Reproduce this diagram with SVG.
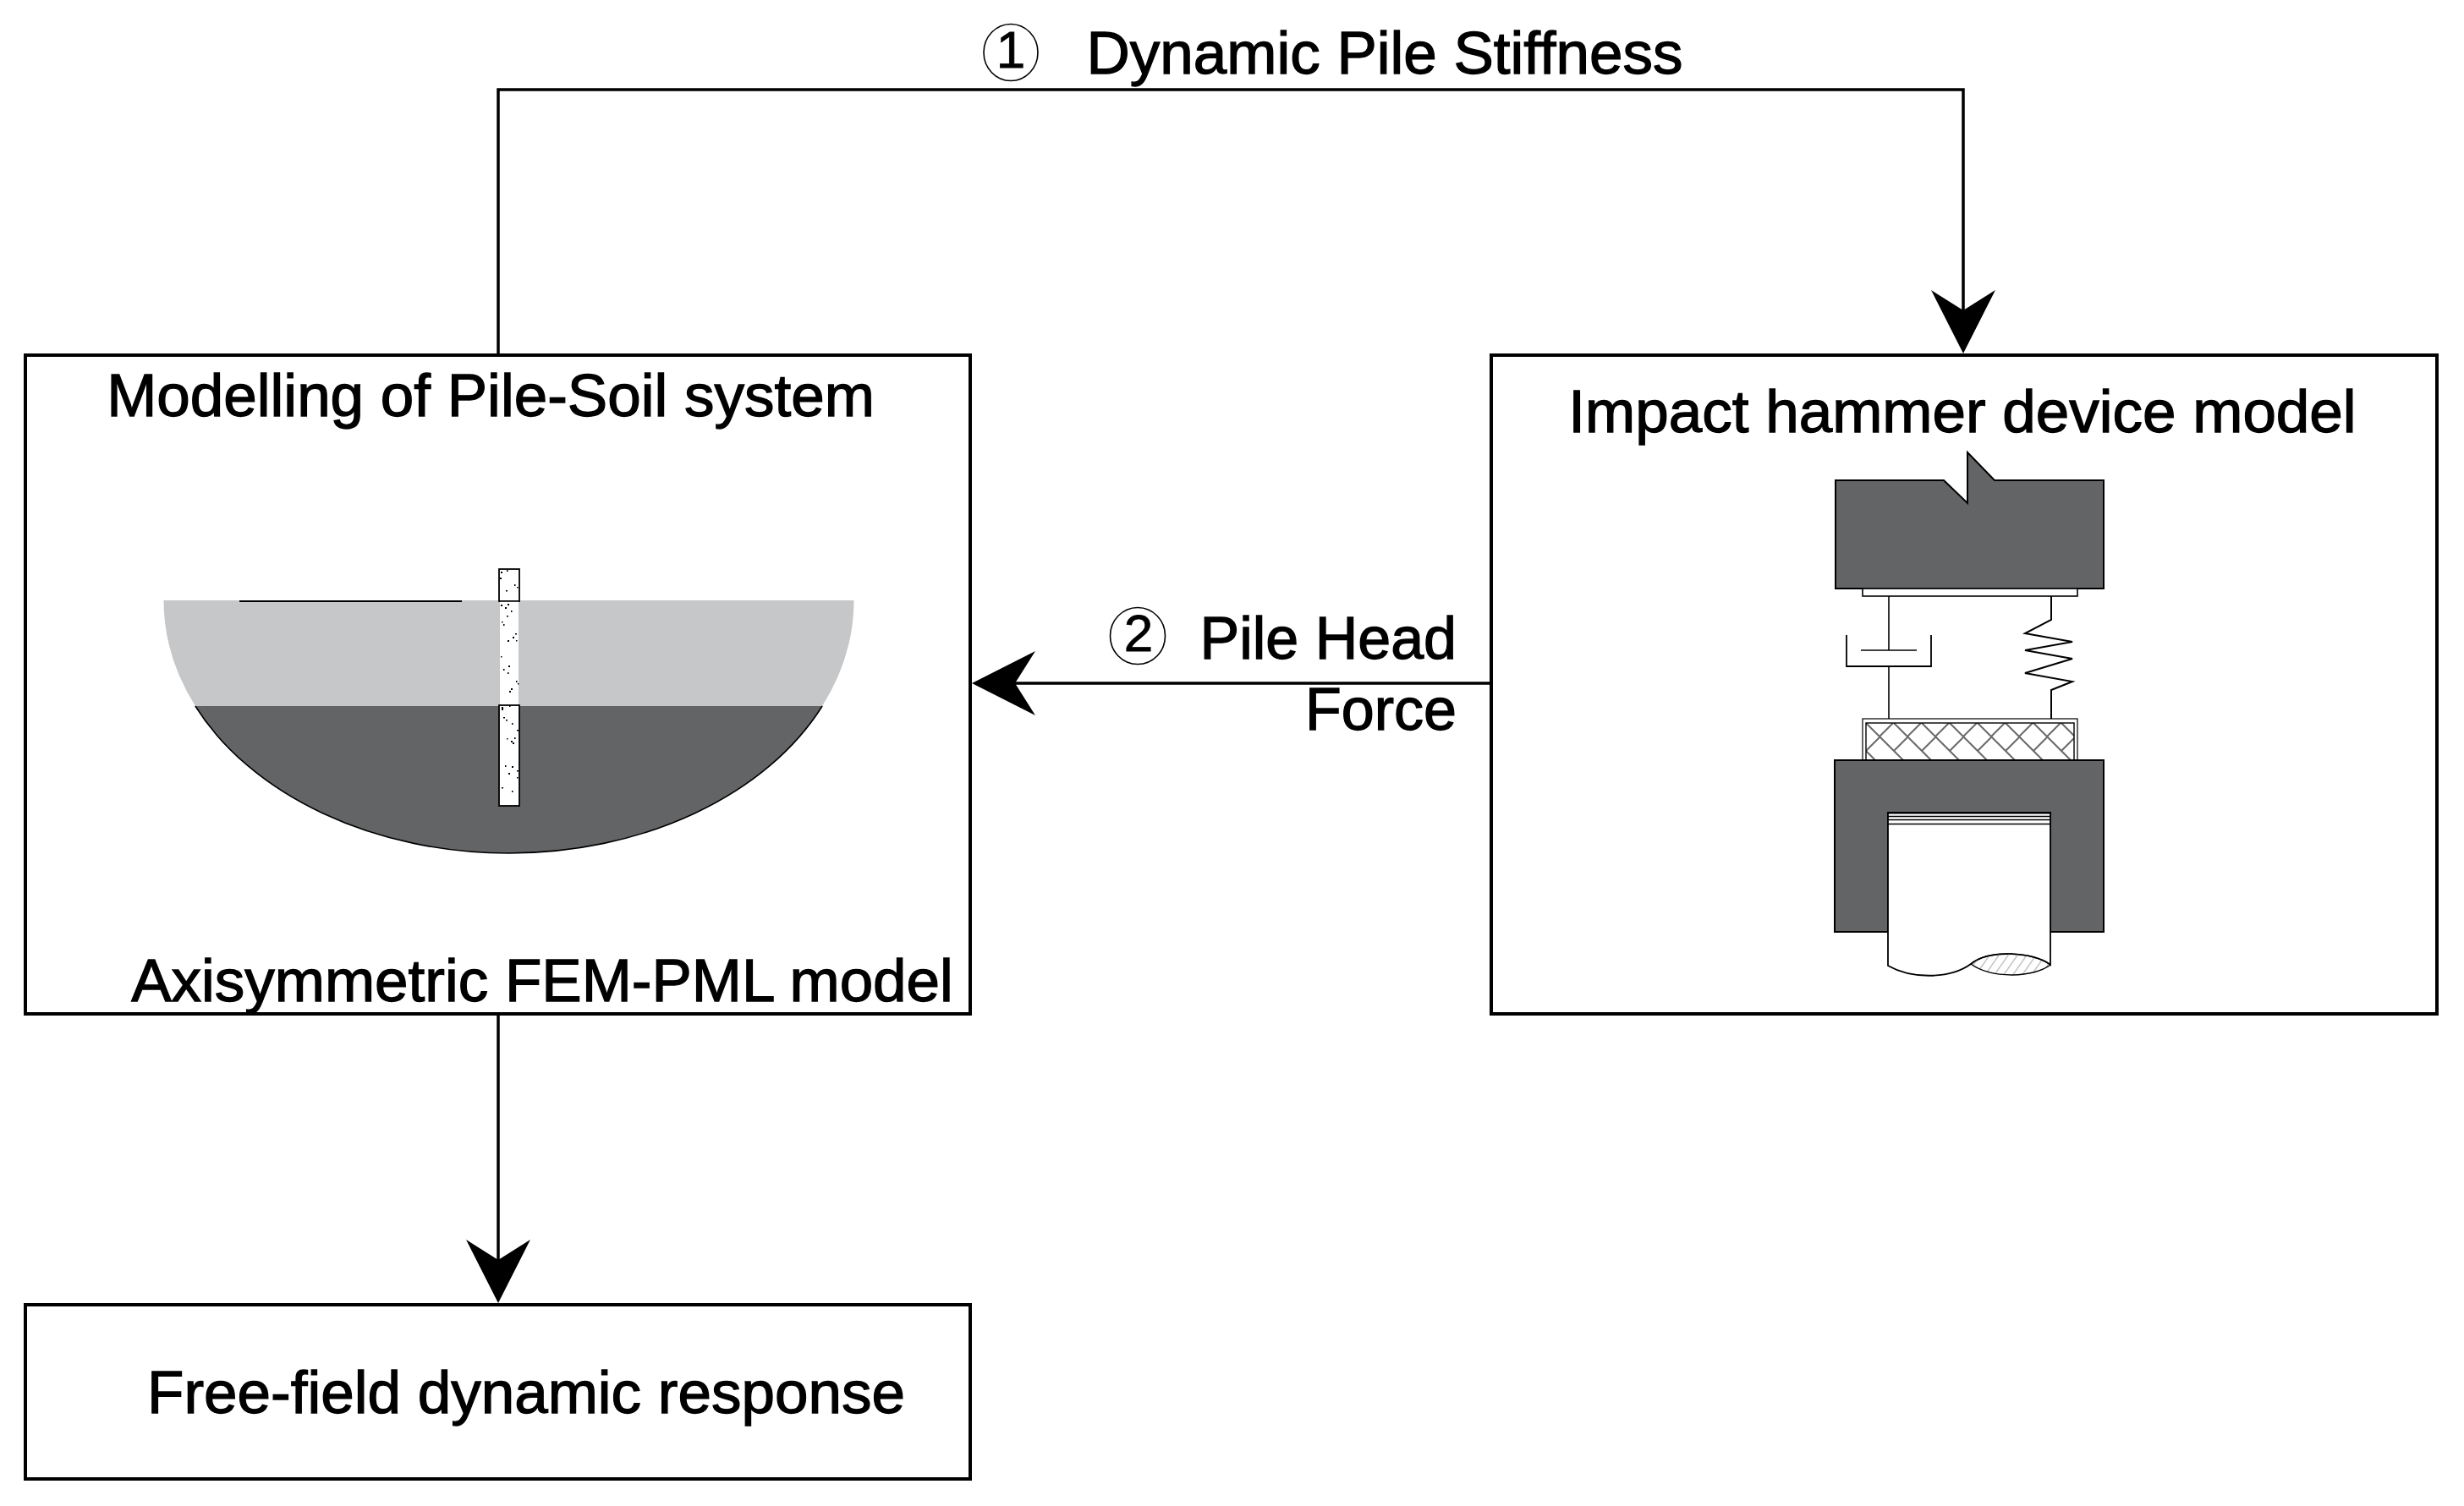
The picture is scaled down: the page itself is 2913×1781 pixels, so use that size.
<svg xmlns="http://www.w3.org/2000/svg" width="2913" height="1781" viewBox="0 0 2913 1781">
<style>
.box{fill:#ffffff;stroke:#000;stroke-width:4}
.conn{fill:none;stroke:#000;stroke-width:3.5}
.lbl{font-family:"Liberation Sans",Arial,sans-serif;font-size:71px;fill:#000;stroke:#000;stroke-width:1.3}
.num{font-family:"Liberation Sans",Arial,sans-serif;font-size:62px;fill:#000;text-anchor:middle;stroke:#000;stroke-width:0.8}
.ring{fill:none;stroke:#000;stroke-width:1.6}
.thin{fill:none;stroke:#000;stroke-width:1.6}
.dark{fill:#636466;stroke:#000;stroke-width:2}
.dot{fill:#000}
</style>
<defs>
<marker id="arr" markerUnits="userSpaceOnUse" viewBox="0 0 75 76" refX="25" refY="38" markerWidth="75" markerHeight="76" orient="auto">
<path d="M0,0 L75,38 L0,76 L24,38 Z" fill="#000"/>
</marker>
<pattern id="herr" patternUnits="userSpaceOnUse" x="2206" y="855" width="33" height="44">
<g stroke="#6a6a6a" stroke-width="2" fill="none">
<line x1="0" y1="0" x2="44" y2="44"/>
<line x1="-33" y1="0" x2="11" y2="44"/>
<line x1="16" y1="16" x2="32.5" y2="-0.5"/>
<line x1="-17" y1="16" x2="-0.5" y2="-0.5"/>
<line x1="33" y1="33" x2="49.5" y2="16.5"/>
<line x1="0" y1="33" x2="16.5" y2="16.5"/>
</g>
</pattern>
<pattern id="hatch" patternUnits="userSpaceOnUse" width="9" height="9" patternTransform="rotate(35)">
<line x1="0" y1="0" x2="0" y2="9" stroke="#b5b5b5" stroke-width="2.5"/>
</pattern>
</defs>

<g id="connectors">
<path class="conn" d="M589,420 V106 H2321 V368" marker-end="url(#arr)"/>
<path class="conn" d="M1763,808 H1199" marker-end="url(#arr)"/>
<path class="conn" d="M589,1199 V1491" marker-end="url(#arr)"/>
<g id="label1">
<ellipse class="ring" cx="1195" cy="62" rx="32" ry="33.5"/>
<text class="num" x="1195" y="80">1</text>
<text class="lbl" x="1637" y="87" text-anchor="middle">Dynamic Pile Stiffness</text>
</g>
<g id="label2">
<ellipse class="ring" cx="1345" cy="752" rx="32.5" ry="33.5"/>
<text class="num" x="1346" y="770">2</text>
<text class="lbl" x="1722" y="779" text-anchor="end" style="font-size:70px">Pile Head</text>
<text class="lbl" x="1722" y="863" text-anchor="end" style="font-size:70px">Force</text>
</g>
</g>

<g id="pile-soil">
<rect class="box" x="30" y="420" width="1117" height="779"/>
<text class="lbl" x="580" y="492" text-anchor="middle">Modelling of Pile-Soil system</text>
<path d="M193.5,710 H1009.5 A408,299 0 0 1 972.1,835 H230.9 A408,299 0 0 1 193.5,710 Z" fill="#c6c7c9"/>
<path d="M230.9,835 H972.1 A408,299 0 0 1 230.9,835 Z" fill="#636466"/>
<path class="thin" d="M230.9,835 A408,299 0 0 0 972.1,835"/>
<line x1="283" y1="711" x2="546" y2="711" stroke="#000" stroke-width="2"/>
<rect x="590" y="673" width="24" height="38" fill="#fff" stroke="#000" stroke-width="1.8"/>
<rect x="591" y="711" width="22" height="124" fill="#fff"/>
<line x1="590" y1="711" x2="614" y2="711" stroke="#000" stroke-width="1.5"/>
<rect x="590" y="834" width="24" height="119" fill="#fff" stroke="#000" stroke-width="1.8"/>
<g class="dot">
<rect x="592" y="676" width="2" height="2"/><rect x="599" y="674" width="1.5" height="2"/><rect x="591" y="683" width="2" height="2"/><rect x="608" y="691" width="1.5" height="2"/><rect x="598" y="698" width="2" height="1.5"/><rect x="611" y="694" width="1.5" height="1.5"/>
<rect x="592" y="715" width="2" height="2"/><rect x="600" y="714" width="2" height="2"/><rect x="597" y="718" width="2" height="2"/><rect x="604" y="722" width="1.5" height="2"/><rect x="599" y="728" width="2" height="1.5"/><rect x="593" y="735" width="1.5" height="1.5"/><rect x="595" y="738" width="1.5" height="2"/><rect x="609" y="749" width="2" height="1.5"/><rect x="606" y="753" width="2" height="2"/><rect x="600" y="757" width="2" height="2"/><rect x="610" y="757" width="1.5" height="1.5"/><rect x="592" y="776" width="1.5" height="1.5"/><rect x="601" y="787" width="2" height="2"/><rect x="595" y="791" width="1.5" height="2"/><rect x="600" y="795" width="1.5" height="2"/><rect x="610" y="805" width="1.5" height="2"/><rect x="612" y="808" width="1.5" height="1.5"/><rect x="604" y="814" width="2" height="2"/><rect x="602" y="817" width="2" height="2"/>
<rect x="593" y="836" width="2" height="2"/><rect x="602" y="834" width="1.5" height="2"/><rect x="593" y="838" width="2" height="2"/><rect x="595" y="848" width="2" height="1.5"/><rect x="598" y="851" width="2" height="1.5"/><rect x="605" y="855" width="1.5" height="2"/><rect x="611" y="863" width="2" height="1.5"/><rect x="599" y="873" width="1.5" height="1.5"/><rect x="604" y="876" width="2" height="2"/><rect x="606" y="878" width="2" height="2"/><rect x="608" y="872" width="1.5" height="2"/><rect x="597" y="905" width="1.5" height="2"/><rect x="605" y="906" width="2" height="2"/><rect x="611" y="911" width="2" height="1.5"/><rect x="601" y="914" width="2" height="2"/><rect x="611" y="919" width="1.5" height="1.5"/><rect x="593" y="931" width="2" height="1.5"/><rect x="605" y="935" width="1.5" height="2"/>
</g>
<text class="lbl" x="641" y="1184" text-anchor="middle">Axisymmetric FEM-PML model</text>
</g>

<g id="impact-hammer">
<rect class="box" x="1763" y="420" width="1118" height="779"/>
<text class="lbl" x="2320" y="511" text-anchor="middle">Impact hammer device model</text>
<path class="dark" d="M2170,568 H2298 L2326,595 V535 L2358,568 H2487 V696 H2170 Z"/>
<rect x="2202" y="696" width="254" height="9" fill="#fff" stroke="#000" stroke-width="1.6"/>
<g class="thin">
<path d="M2233,705 V769"/>
<path d="M2200,769 H2266"/>
<path d="M2183,751 V788 H2283 V751" style="stroke-width:1.8"/>
<path d="M2233,788 V850"/>
<path d="M2425,705 V733 L2394,749 L2450,759 L2394,769 L2450,779 L2394,796 L2450,806 L2425,816 V850" style="stroke-width:2"/>
</g>
<rect x="2202" y="850" width="254" height="49" fill="#fff" stroke="#000" stroke-width="1.2"/>
<rect x="2206" y="855" width="246" height="44" fill="url(#herr)" stroke="#000" stroke-width="1.4"/>
<path class="dark" d="M2169,899 H2487 V1102 H2424 V961 H2232 V1102 H2169 Z"/>
<path d="M2232,961 H2424 V1141 C2405,1126 2352,1122 2330,1140 C2305,1158 2260,1158 2232,1142 Z" fill="#fff" stroke="#000" stroke-width="1.8"/>
<path d="M2330,1140 C2352,1122 2405,1126 2424,1141 C2405,1156 2355,1158 2330,1140 Z" fill="url(#hatch)" stroke="#000" stroke-width="1.5"/>
<g stroke="#000" stroke-width="1.4">
<line x1="2232" y1="961.5" x2="2424" y2="961.5" stroke-width="2"/>
<line x1="2232" y1="965.5" x2="2424" y2="965.5"/>
<line x1="2232" y1="969.5" x2="2424" y2="969.5"/>
<line x1="2232" y1="974.5" x2="2424" y2="974.5"/>
</g>
</g>

<g id="free-field">
<rect class="box" x="30" y="1543" width="1117" height="206"/>
<text class="lbl" x="622" y="1671" text-anchor="middle">Free-field dynamic response</text>
</g>
</svg>
